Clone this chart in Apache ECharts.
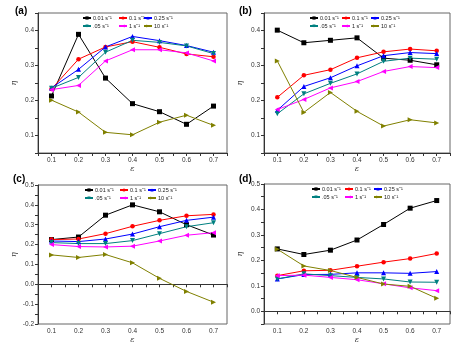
<!DOCTYPE html>
<html><head><meta charset="utf-8">
<script src="https://cdn.jsdelivr.net/npm/echarts@6/dist/echarts.min.js"></script>
<style>html,body{margin:0;padding:0;background:#fff}#c{width:474px;height:346px}</style>
</head><body><div id="c"></div>
<script>
// ---- data ----
const strain = [0.1, 0.2, 0.3, 0.4, 0.5, 0.6, 0.7];
const rateNames = ['0.01 s\u207B\u00B9', '0.1 s\u207B\u00B9', '0.25 s\u207B\u00B9', '.05 s\u207B\u00B9', '1 s\u207B\u00B9', '10 s\u207B\u00B9'];
const panelLabels = ['(a)', '(b)', '(c)', '(d)'];
// panel (a)
const a001 = [0.213, 0.389, 0.264, 0.191, 0.168, 0.132, 0.184];
const a01  = [0.233, 0.318, 0.353, 0.368, 0.352, 0.333, 0.325];
const a025 = [0.236, 0.289, 0.353, 0.383, 0.371, 0.357, 0.338];
const a005 = [0.235, 0.266, 0.338, 0.372, 0.366, 0.356, 0.334];
const a1   = [0.231, 0.243, 0.313, 0.345, 0.345, 0.336, 0.313];
const a10  = [0.201, 0.167, 0.109, 0.102, 0.138, 0.158, 0.129];
// panel (b)
const b001 = [0.401, 0.365, 0.372, 0.379, 0.321, 0.315, 0.302];
const b01  = [0.209, 0.272, 0.288, 0.322, 0.339, 0.347, 0.342];
const b025 = [0.172, 0.240, 0.265, 0.299, 0.328, 0.337, 0.334];
const b005 = [0.162, 0.219, 0.249, 0.276, 0.312, 0.321, 0.318];
const b1   = [0.174, 0.203, 0.236, 0.254, 0.283, 0.297, 0.294];
const b10  = [0.313, 0.166, 0.223, 0.169, 0.127, 0.145, 0.136];
// panel (c)
const c001 = [0.225, 0.238, 0.348, 0.400, 0.365, 0.300, 0.248];
const c01  = [0.225, 0.228, 0.255, 0.292, 0.322, 0.345, 0.352];
const c025 = [0.218, 0.215, 0.228, 0.253, 0.290, 0.322, 0.338];
const c005 = [0.210, 0.205, 0.205, 0.220, 0.255, 0.290, 0.310];
const c1   = [0.200, 0.190, 0.188, 0.192, 0.218, 0.247, 0.260];
const c10  = [0.148, 0.135, 0.150, 0.108, 0.030, -0.036, -0.090];
// panel (d)
const d001 = [0.245, 0.223, 0.240, 0.280, 0.341, 0.405, 0.435];
const d01  = [0.140, 0.159, 0.161, 0.177, 0.193, 0.207, 0.227];
const d025 = [0.127, 0.144, 0.145, 0.151, 0.151, 0.149, 0.156];
const d005 = [0.127, 0.147, 0.140, 0.133, 0.127, 0.115, 0.114];
const d1   = [0.140, 0.142, 0.133, 0.124, 0.108, 0.092, 0.081];
const d10  = [0.244, 0.178, 0.160, 0.133, 0.107, 0.098, 0.051];

const panels = [
  [a001, a01, a025, a005, a1, a10],
  [b001, b01, b025, b005, b1, b10],
  [c001, c01, c025, c005, c1, c10],
  [d001, d01, d025, d005, d1, d10]
];

// ---- styles ----
const colors = ['#000000', '#ff0000', '#0000ff', '#008080', '#ff00ff', '#808000'];
const symbols = ['rect', 'circle', 'triangle', 'triangle', 'triangle', 'triangle'];
const rotates = [0, 0, 0, 180, 90, -90];
const grids = [
  {left: 38, top: 13, width: 189, height: 140},
  {left: 264, top: 13, width: 186, height: 140},
  {left: 38, top: 185, width: 189, height: 139},
  {left: 264, top: 184, width: 186, height: 140}
];
const yRanges = [[0.05, 0.45], [0.05, 0.45], [-0.2, 0.5], [-0.05, 0.5]];
const legendCols = [[82, 118, 143], [309, 341, 370], [84, 119, 147], [311, 344, 373]];
const labelPos = [[15, 6], [239, 6], [13, 174], [239, 174]];

const fmt = v => {
  const r = Math.round(v * 10) / 10;
  return Math.abs(v - r) < 1e-6 ? (r === 0 ? '0.0' : r.toFixed(1)) : '';
};
const axisCommon = {
  axisLine: {lineStyle: {color: '#333', width: 1}},
  axisTick: {length: 3, lineStyle: {color: '#333'}},
  axisLabel: {fontSize: 6.5, color: '#333', fontFamily: 'Liberation Sans', margin: 4, formatter: fmt},
  splitLine: {show: false},
  nameTextStyle: {fontSize: 8, color: '#333', fontFamily: 'DejaVu Serif', fontStyle: 'italic'}
};

const option = {
  animation: false,
  backgroundColor: '#fff',
  title: panelLabels.map((t, i) => ({
    text: t, left: labelPos[i][0], top: labelPos[i][1], padding: 0,
    textStyle: {fontSize: 10, fontWeight: 'bold', color: '#000', fontFamily: 'Liberation Sans'}
  })),
  grid: grids.map(g => Object.assign({show: true, borderColor: '#666', borderWidth: 1, backgroundColor: 'transparent'}, g)),
  xAxis: grids.map((g, i) => Object.assign({}, axisCommon, {
    type: 'value', gridIndex: i, min: 0.05, max: 0.75, interval: 0.05,
    name: '\u03B5', nameLocation: 'middle', nameGap: 12
  })),
  yAxis: grids.map((g, i) => Object.assign({}, axisCommon, {
    type: 'value', gridIndex: i, min: yRanges[i][0], max: yRanges[i][1], interval: 0.05,
    name: '\u03B7', nameLocation: 'middle', nameGap: 20, nameRotate: 90
  })),
  legend: [],
  series: []
};

panels.forEach((p, i) => {
  p.forEach((vals, k) => {
    option.series.push({
      type: 'line', name: rateNames[k], xAxisIndex: i, yAxisIndex: i,
      data: strain.map((x, j) => [x, vals[j]]),
      symbol: symbols[k], symbolRotate: rotates[k], symbolSize: k === 1 ? 4.5 : 5,
      showAllSymbol: true,
      lineStyle: {color: colors[k], width: 1},
      itemStyle: {color: colors[k]},
      emphasis: {disabled: true}
    });
  });
  for (let col = 0; col < 3; col++) {
    option.legend.push({
      orient: 'vertical', left: legendCols[i][col], top: grids[i].top + 1.5,
      itemWidth: 8, itemHeight: 4, itemGap: 1, padding: 0,
      data: [rateNames[col], rateNames[col + 3]],
      textStyle: {fontSize: 5.5, lineHeight: 7, color: '#222', fontFamily: 'Liberation Sans', padding: [0, 0, 0, -3]},
      selectedMode: false
    });
  }
});

const chart = echarts.init(document.getElementById('c'), null, {renderer: 'canvas'});
chart.setOption(option);
</script></body></html>
